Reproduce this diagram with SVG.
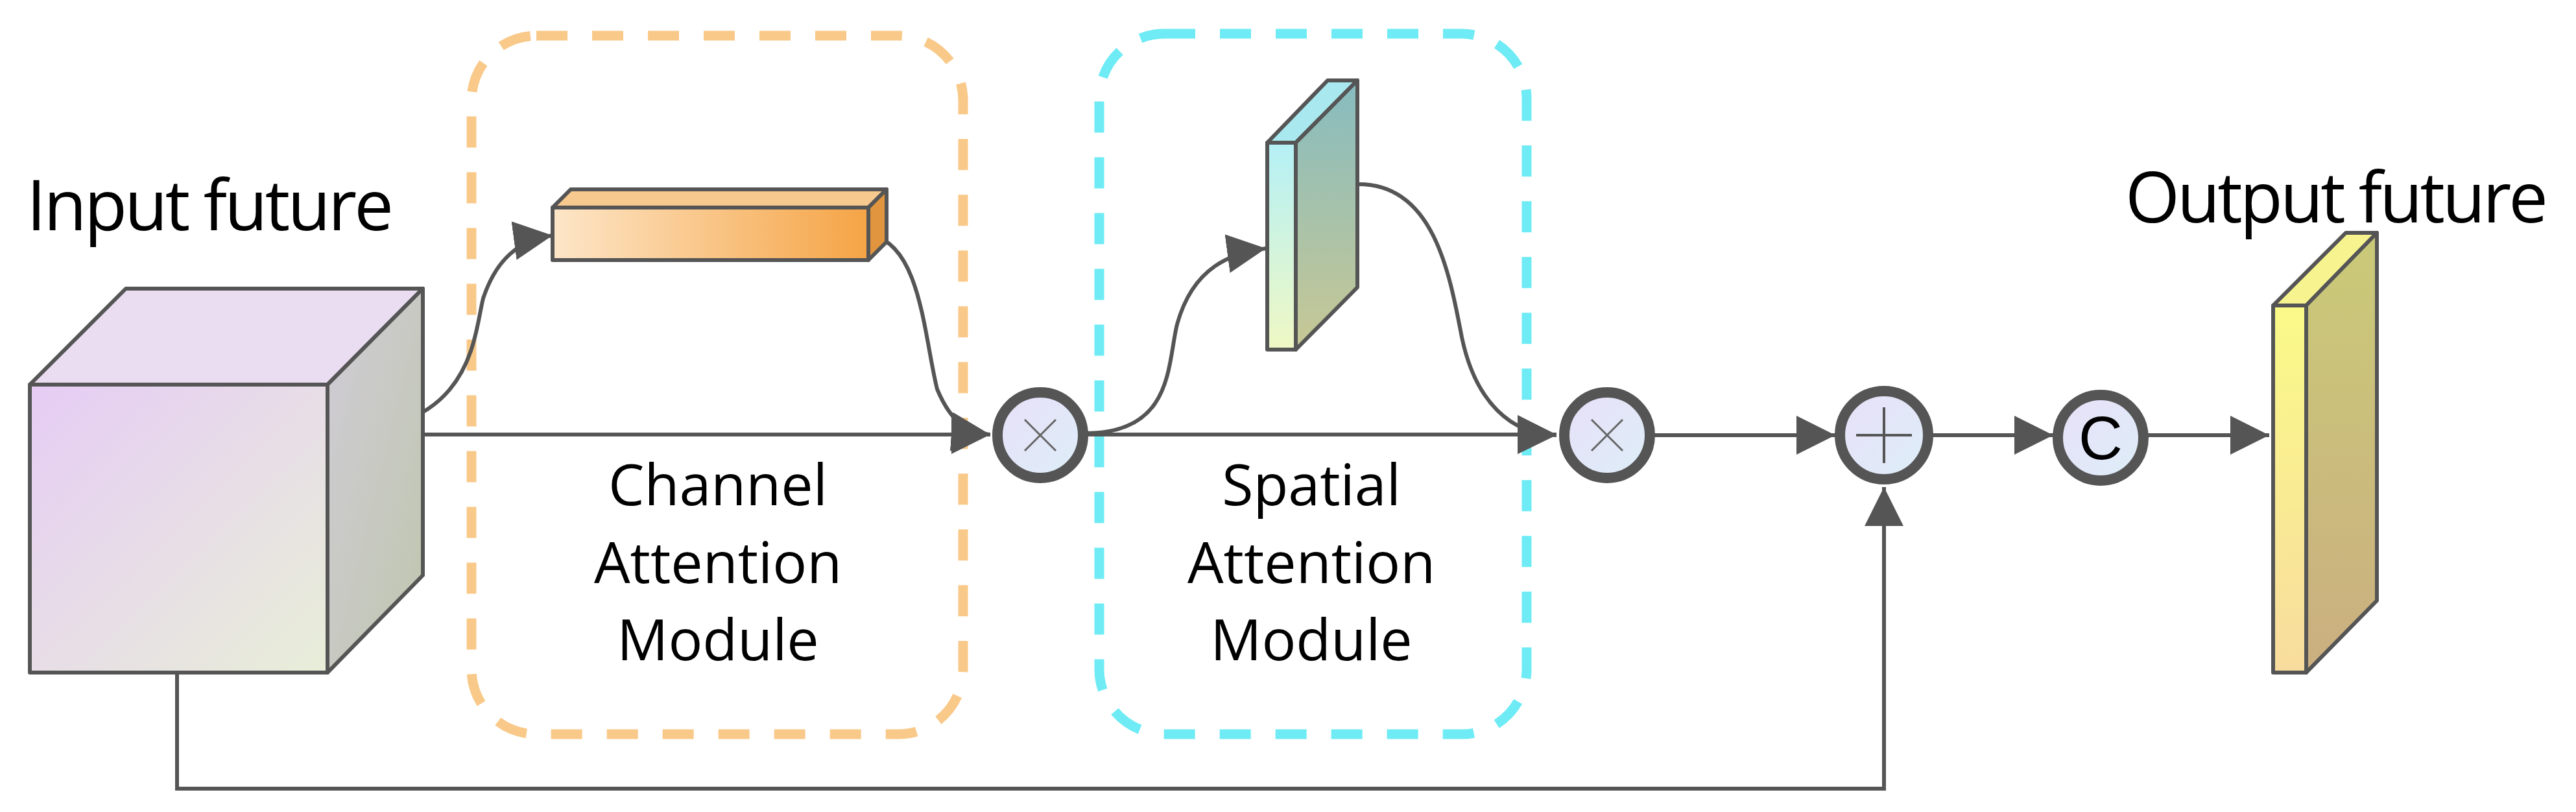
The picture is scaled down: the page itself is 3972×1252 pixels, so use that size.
<svg xmlns="http://www.w3.org/2000/svg" width="3972" height="1252" viewBox="0 0 3972 1252">
<style>
.ln{fill:none;stroke:#555;stroke-width:6}
.ed{stroke:#555;stroke-width:6;stroke-linejoin:round}
.op{fill:url(#gc);stroke:#555;stroke-width:16}
.t{font-family:"Open Sans","Noto Sans",sans-serif;fill:#000}
.big{font-size:108px}
.mid{font-size:88px;text-anchor:middle}
</style>
<defs>
<marker id="a" viewBox="0 0 10 10" refX="10" refY="5" markerWidth="10" markerHeight="10" orient="auto"><path d="M0,0L10,5L0,10z" fill="#555"/></marker>
<linearGradient id="cf" x1="0" y1="0" x2="1" y2="1"><stop offset="0" stop-color="#E6CCF5"/><stop offset="1" stop-color="#E8EED8"/></linearGradient>
<linearGradient id="cr" x1="0" y1="0" x2="1" y2="1"><stop offset="0" stop-color="#D0CCD6"/><stop offset="1" stop-color="#BFC6AE"/></linearGradient>
<linearGradient id="of" x1="0" y1="0" x2="1" y2="0"><stop offset="0" stop-color="#FDE6C8"/><stop offset="1" stop-color="#F5A445"/></linearGradient>
<linearGradient id="sf" x1="0" y1="0" x2="0" y2="1"><stop offset="0" stop-color="#B4F0F6"/><stop offset="1" stop-color="#F0F8C4"/></linearGradient>
<linearGradient id="sr" x1="0" y1="0" x2="0" y2="1"><stop offset="0" stop-color="#86BCC0"/><stop offset="1" stop-color="#C8C894"/></linearGradient>
<linearGradient id="yf" x1="0" y1="0" x2="0" y2="1"><stop offset="0" stop-color="#FAFA88"/><stop offset="1" stop-color="#F8DC9E"/></linearGradient>
<linearGradient id="yr" x1="0" y1="0" x2="0" y2="1"><stop offset="0" stop-color="#CACA78"/><stop offset="1" stop-color="#CBAF80"/></linearGradient>
<linearGradient id="gc" x1="0" y1="0" x2="1" y2="1"><stop offset="0" stop-color="#E8E0F8"/><stop offset="1" stop-color="#DDEEF8"/></linearGradient>
</defs>

<g id="channel-box"><rect x="727" y="55" width="758" height="1077" rx="100" fill="none" stroke="#F9C98A" stroke-width="15" stroke-dasharray="48 38"/>
<text class="t mid" x="1107" y="779">Channel</text><text class="t mid" x="1107" y="899">Attention</text><text class="t mid" x="1107" y="1018">Module</text></g>
<g id="spatial-box"><rect x="1695" y="52" width="659" height="1080" rx="100" fill="none" stroke="#6EEBF5" stroke-width="15" stroke-dasharray="48 38"/>
<text class="t mid" x="2022" y="779">Spatial</text><text class="t mid" x="2022" y="899">Attention</text><text class="t mid" x="2022" y="1018">Module</text></g>

<g id="connectors">
<path class="ln" d="M507,670H1527" marker-end="url(#a)"/>
<path class="ln" d="M507,668C730,668 730,520 745,460C765,400 800,370 852,363" marker-end="url(#a)"/>
<path class="ln" d="M1345,363C1420,380 1425,520 1445,600C1470,660 1500,668 1527,670" marker-end="url(#a)"/>
<path class="ln" d="M1674,670H2400" marker-end="url(#a)"/>
<path class="ln" d="M1674,668C1810,668 1800,560 1815,500C1840,410 1900,390 1952,383" marker-end="url(#a)"/>
<path class="ln" d="M2095,284C2210,284 2235,420 2254,520C2275,620 2330,670 2400,671" marker-end="url(#a)"/>
<path class="ln" d="M2550,671H2830" marker-end="url(#a)"/>
<path class="ln" d="M273,1037V1216H2905V751" marker-end="url(#a)"/>
<path class="ln" d="M2979,671H3166" marker-end="url(#a)"/>
<path class="ln" d="M3312,671H3499" marker-end="url(#a)"/>
</g>

<g id="input">
<text class="t big" x="41" y="355" textLength="566">Input future</text>
<polygon class="ed" points="46,593 194,445 652,445 505,593" fill="#EADCF1"/>
<polygon class="ed" points="505,593 652,445 652,887 505,1037" fill="url(#cr)"/>
<rect class="ed" x="46" y="593" width="459" height="444" fill="url(#cf)"/>
</g>
<g id="channel-bar">
<polygon class="ed" points="852,320 880,292 1367,292 1339,320" fill="#F8C98E"/>
<polygon class="ed" points="1339,320 1367,292 1367,373 1339,401" fill="#E0953E"/>
<rect class="ed" x="852" y="320" width="487" height="81" fill="url(#of)"/>
</g>
<g id="spatial-slab">
<polygon class="ed" points="1954,220 2047,124 2093,124 1998,220" fill="#A8E8EE"/>
<polygon class="ed" points="1998,220 2093,124 2093,443 1998,539" fill="url(#sr)"/>
<rect class="ed" x="1954" y="220" width="44" height="319" fill="url(#sf)"/>
</g>
<g id="mul1"><circle class="op" cx="1604" cy="671" r="66"/><path d="M1580,647L1628,695M1628,647L1580,695" stroke="#666" stroke-width="3"/></g>
<g id="mul2"><circle class="op" cx="2478" cy="671" r="66"/><path d="M2454,647L2502,695M2502,647L2454,695" stroke="#666" stroke-width="3"/></g>
<g id="add"><circle class="op" cx="2905" cy="671" r="68"/><path d="M2862,671H2948M2905,628V714" stroke="#555" stroke-width="4"/></g>
<g id="concat"><circle class="op" cx="3239" cy="675" r="66"/><text x="3239" y="708" font-family="Liberation Sans,Arial,sans-serif" font-size="94" text-anchor="middle" fill="#000">C</text></g>
<g id="output">
<text class="t big" x="3277" y="343" textLength="652">Output future</text>
<polygon class="ed" points="3505,471 3617,359 3665,359 3556,471" fill="#F7F490"/>
<polygon class="ed" points="3556,471 3665,359 3665,926 3556,1037" fill="url(#yr)"/>
<rect class="ed" x="3505" y="471" width="51" height="566" fill="url(#yf)"/>
</g>
</svg>
